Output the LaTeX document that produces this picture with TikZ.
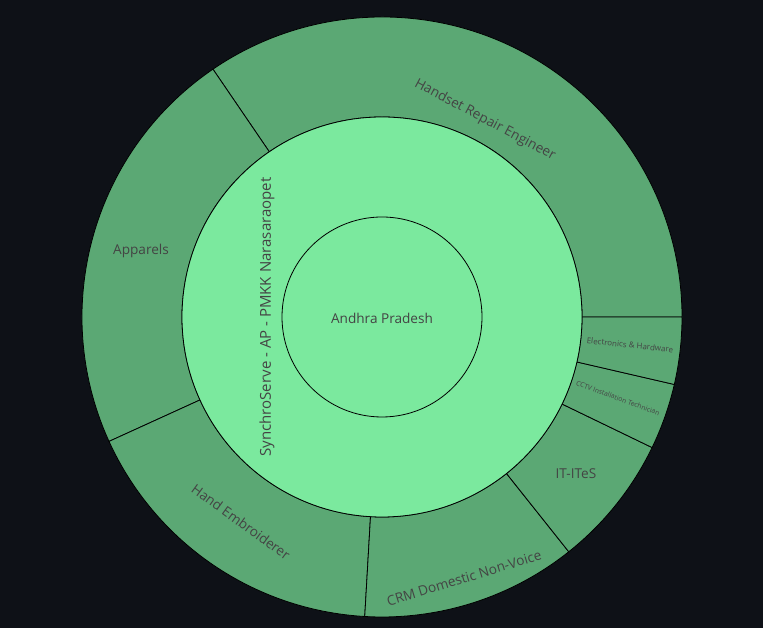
\documentclass[tikz,border=0pt]{standalone}
\usepackage{fontspec}
\setmainfont{Open Sans}
\definecolor{bg}{HTML}{0E1117}
\definecolor{outerg}{HTML}{5BA874}
\definecolor{innerg}{HTML}{7BE99E}
\definecolor{txt}{HTML}{444444}
\tikzset{seg/.style={fill=outerg,draw=black,line width=0.8pt},
lab/.style={text=txt,font=\fontsize{13.6}{13.6}\selectfont,inner sep=0pt}}
\begin{document}
\begin{tikzpicture}[x=1pt,y=1pt]
\fill[bg] (0,0) rectangle (763,628);
\useasboundingbox (0,0) rectangle (763,628);
\begin{scope}[shift={(382pt,311pt)}]
\foreach \a/\b in {0/124.3,124.3/204.5,204.5/266.7,266.7/308.5,308.5/334.2,334.2/347,347/360}{
\draw[seg] (\a:200pt) -- (\a:300pt) arc[start angle=\a,end angle=\b,radius=300pt] -- (\b:200pt) arc[start angle=\b,end angle=\a,radius=200pt] -- cycle;}
\draw[fill=innerg,line width=0.8pt] (0,0) circle[radius=200pt];
\draw[fill=innerg,line width=0.8pt] (0,0) circle[radius=100pt];
\end{scope}
\node[lab] (c) at (382,310) {Andhra Pradesh};
\node[lab,font=\fontsize{15}{15}\selectfont,rotate=90] (m) at (267,311) {SynchroServe - AP - PMKK Narasaraopet};
\node[lab,rotate=-28] (h) at (485,508) {Handset Repair Engineer};
\node[lab] (ap) at (141,377) {Apparels};
\node[lab,rotate=-36] (he) at (241,106) {Hand Embroiderer};
\node[lab,rotate=17] (crm) at (464,50) {CRM Domestic Non-Voice};
\node[lab] (it) at (576,154) {IT-ITeS};
\node[lab,font=\fontsize{8}{8}\selectfont,rotate=-6] (el) at (630,283) {Electronics \& Hardware};
\node[lab,font=\fontsize{6.8}{6.8}\selectfont,rotate=-20] (cc) at (618,230) {CCTV Installation Technician};
\end{tikzpicture}
\end{document}
